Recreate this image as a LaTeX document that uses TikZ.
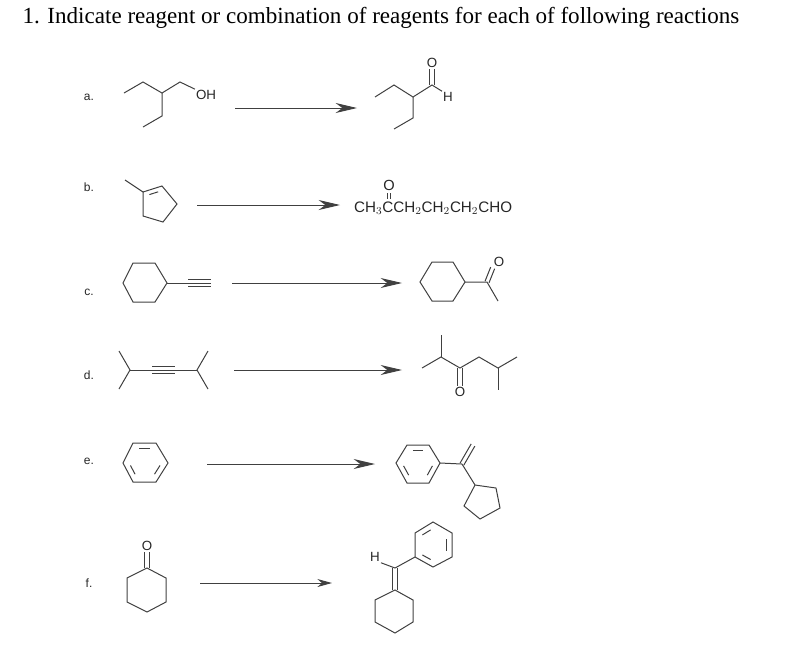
\documentclass[tikz,border=0pt]{standalone}
\usepackage{fontspec}
\setmainfont{Liberation Serif}
\newfontfamily\chemsans{Liberation Sans}
\usetikzlibrary{calc,arrows.meta}
\newcommand{\innerbond}[3]{\draw ($0.5904*(#1)+0.1296*(#2)+0.28*(#3)$) -- ($0.1296*(#1)+0.5904*(#2)+0.28*(#3)$);}
\newcommand{\dbl}[2]{\draw ($(#1)!1.6pt!90:(#2)$) -- ($(#2)!1.6pt!-90:(#1)$); \draw ($(#1)!1.6pt!-90:(#2)$) -- ($(#2)!1.6pt!90:(#1)$);}
\newcommand{\trip}[2]{\draw (#1) -- (#2); \draw ($(#1)!2.4pt!90:(#2)$) -- ($(#2)!2.4pt!-90:(#1)$); \draw ($(#1)!2.4pt!-90:(#2)$) -- ($(#2)!2.4pt!90:(#1)$);}
\begin{document}
\begin{tikzpicture}[x=0.75pt,y=-0.75pt,line width=0.75pt,draw=black!75,
  lbl/.style={font=\chemsans\fontsize{9}{10}\selectfont,inner sep=0pt,text=black!85},
  atom/.style={font=\chemsans\fontsize{10}{11}\selectfont,inner sep=0.5pt,text=black!85},
  rxn/.style={draw=black!75,-{Stealth[length=16pt,width=7.5pt,inset=5pt]}}]
\useasboundingbox (0,0) rectangle (812,651);
\node[anchor=west,font=\fontsize{17.3}{19}\selectfont,inner sep=0pt] (title) at (22,18) {1. Indicate reagent or combination of reagents for each of following reactions};
\node[lbl] (la) at (89,97) {a.};
\node[lbl] (lb) at (89,187) {b.};
\node[lbl] (lc) at (89,292) {c.};
\node[lbl] (ld) at (89,375) {d.};
\node[lbl] (le) at (89,461) {e.};
\node[lbl] (lf) at (89,583) {f.};
% a reactant
\coordinate (a1) at (124,93); \coordinate (a2) at (143,82); \coordinate (a3) at (162,93);
\coordinate (a4) at (180,82); \coordinate (a5) at (162,116); \coordinate (a6) at (143,127);
\node[atom] (aOH) at (206,95) {OH};
\draw (a1)--(a2)--(a3)--(a4)--(aOH.north west); \draw (a3)--(a5)--(a6);
\coordinate (aA1) at (235,108); \coordinate (aA2) at (357,108);
\draw[rxn] (aA1) -- (aA2);
% a product
\coordinate (p1) at (375,97); \coordinate (p2) at (394,85); \coordinate (p3) at (413,97);
\coordinate (p4) at (432,85); \coordinate (p5) at (413,118); \coordinate (p6) at (394,129);
\node[atom] (pO) at (432,63) {O}; \node[atom] (pH) at (448,97) {H};
\draw (p1)--(p2)--(p3)--(p4)--(pH.north west); \draw (p3)--(p5)--(p6);
\dbl{p4}{pO.south}
% b reactant
\coordinate (b0) at (125,180); \coordinate (b1) at (143,192); \coordinate (b2) at (162,186);
\coordinate (b3) at (177,204); \coordinate (b4) at (163,222); \coordinate (b5) at (143,216);
\coordinate (bc) at (157,204);
\draw (b0)--(b1); \draw (b1)--(b2)--(b3)--(b4)--(b5)--cycle; \innerbond{b1}{b2}{bc}
\draw[rxn] (197,205) coordinate (bA1) -- (340,205) coordinate (bA2);
\node[atom,anchor=west,font=\chemsans\fontsize{11.4}{12}\selectfont] (bP) at (353,208) {CH$_3$CCH$_2$CH$_2$CH$_2$CHO};
\node[atom,font=\chemsans\fontsize{11}{12}\selectfont] (bO) at (389,185) {O};
\draw ($(bO.south)+(-1.2,2)$) -- +(0,6); \draw ($(bO.south)+(1.2,2)$) -- +(0,6);
% c reactant
\coordinate (c1) at (123,283); \coordinate (c2) at (133,263); \coordinate (c3) at (155,263);
\coordinate (c4) at (167,283); \coordinate (c5) at (155,302); \coordinate (c6) at (133,302);
\coordinate (c7) at (188,283); \coordinate (c8) at (211,283);
\draw (c1)--(c2)--(c3)--(c4)--(c5)--(c6)--cycle; \draw (c4)--(c7); \trip{c7}{c8}
\draw[rxn] (232,283) coordinate (cA1) -- (402,283) coordinate (cA2);
% c product
\coordinate (q1) at (420,282); \coordinate (q2) at (432,262); \coordinate (q3) at (453,262);
\coordinate (q4) at (465,282); \coordinate (q5) at (453,301); \coordinate (q6) at (432,301);
\coordinate (q7) at (487,282); \coordinate (q8) at (498,301);
\node[atom] (qO) at (499,262) {O};
\draw (q1)--(q2)--(q3)--(q4)--(q5)--(q6)--cycle; \draw (q4)--(q7)--(q8); \dbl{q7}{qO.south west}
% d reactant
\coordinate (d1) at (119,351); \coordinate (d2) at (130,370); \coordinate (d3) at (119,389);
\coordinate (d4) at (152,370); \coordinate (d5) at (175,370); \coordinate (d6) at (197,370);
\coordinate (d7) at (208,351); \coordinate (d8) at (208,389);
\draw (d1)--(d2)--(d3); \draw (d2)--(d4); \trip{d4}{d5} \draw (d5)--(d6); \draw (d7)--(d6)--(d8);
\draw[rxn] (234,370) coordinate (dA1) -- (402,370) coordinate (dA2);
% d product
\coordinate (r1) at (422,368); \coordinate (r2) at (441,357); \coordinate (r3) at (441,335);
\coordinate (r4) at (460,368); \coordinate (r5) at (479,357); \coordinate (r6) at (498,368);
\coordinate (r7) at (498,390); \coordinate (r8) at (517,357);
\node[atom] (rO) at (460,392) {O};
\draw (r1)--(r2)--(r4)--(r5)--(r6)--(r8); \draw (r2)--(r3); \draw (r6)--(r7); \dbl{r4}{rO.north}
% e reactant
\coordinate (e1) at (123,463); \coordinate (e2) at (133,443); \coordinate (e3) at (156,443);
\coordinate (e4) at (168,463); \coordinate (e5) at (156,482); \coordinate (e6) at (133,482);
\coordinate (ec) at (145,463);
\draw (e1)--(e2)--(e3)--(e4)--(e5)--(e6)--cycle;
\innerbond{e2}{e3}{ec} \innerbond{e4}{e5}{ec} \innerbond{e6}{e1}{ec}
\draw[rxn] (207,464) coordinate (eA1) -- (375,464) coordinate (eA2);
% e product
\coordinate (s1) at (396,463); \coordinate (s2) at (407,445); \coordinate (s3) at (429,445);
\coordinate (s4) at (440,463); \coordinate (s5) at (429,483); \coordinate (s6) at (407,483);
\coordinate (sc) at (418,464);
\draw (s1)--(s2)--(s3)--(s4)--(s5)--(s6)--cycle;
\innerbond{s2}{s3}{sc} \innerbond{s4}{s5}{sc} \innerbond{s6}{s1}{sc}
\coordinate (s7) at (462,464); \coordinate (s8) at (473,445);
\draw (s4)--(s7); \dbl{s7}{s8}
\coordinate (t1) at (475,485); \coordinate (t2) at (496,488); \coordinate (t3) at (500,508);
\coordinate (t4) at (480,519); \coordinate (t5) at (464,506);
\draw (s7)--(t1); \draw (t1)--(t2)--(t3)--(t4)--(t5)--cycle;
% f reactant
\node[atom] (fO) at (147,546) {O};
\coordinate (f1) at (147,568); \coordinate (f2) at (166,578); \coordinate (f3) at (166,602);
\coordinate (f4) at (147,612); \coordinate (f5) at (127,602); \coordinate (f6) at (127,578);
\draw (f1)--(f2)--(f3)--(f4)--(f5)--(f6)--cycle; \dbl{f1}{fO.south}
\draw[rxn,-{Stealth[length=11pt,width=6pt,inset=3.5pt]}] (200,583) coordinate (fA1) -- (332,583) coordinate (fA2);
% f product
\coordinate (g1) at (395,590); \coordinate (g2) at (413,600); \coordinate (g3) at (413,622);
\coordinate (g4) at (395,633); \coordinate (g5) at (375,622); \coordinate (g6) at (375,600);
\draw (g1)--(g2)--(g3)--(g4)--(g5)--(g6)--cycle;
\coordinate (g7) at (395,568);
\dbl{g1}{g7}
\node[atom] (gH) at (375,557) {H};
\draw (g7) -- (gH.south east);
\coordinate (h1) at (415,557); \coordinate (h2) at (415,533); \coordinate (h3) at (433,522);
\coordinate (h4) at (452,533); \coordinate (h5) at (452,557); \coordinate (h6) at (433,567);
\coordinate (hc) at (433,545);
\draw (g7)--(h1); \draw (h1)--(h2)--(h3)--(h4)--(h5)--(h6)--cycle;
\innerbond{h2}{h3}{hc} \innerbond{h4}{h5}{hc} \innerbond{h6}{h1}{hc}
\end{tikzpicture}
\end{document}
